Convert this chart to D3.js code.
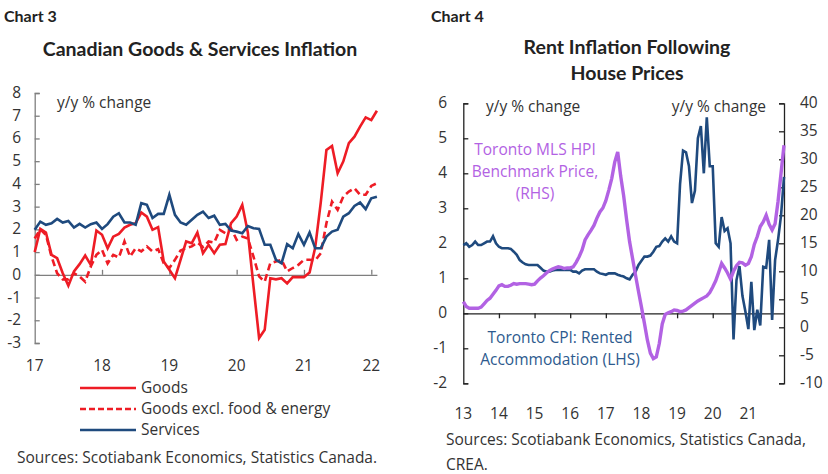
<!DOCTYPE html>
<meta charset="utf-8">
<head>
<style>
body { margin: 0; background: #fff; }
svg text { font-family: "Open Sans", Lato, sans-serif; fill: #222; }
.title { font-family: Lato, sans-serif; font-weight: 700; }
.axis-lab { font-size: 15.5px; fill: #333; }
</style>
</head>
<body>
<script src="https://cdnjs.cloudflare.com/ajax/libs/d3/7.8.5/d3.min.js"></script>
<script>
//------------------------- DATA --------------------------//
// chart 3: monthly, Jan 2017 .. Feb 2022
var yearLabels3 = ["17", "18", "19", "20", "21", "22"];
var goods = [1.0, 2.02, 1.86, 0.88, 0.73, 0.07, -0.48, 0.15, 0.47, 0.85, 0.44, 1.95,
  1.76, 1.17, 1.68, 1.8, 2.08, 2.2, 2.27, 2.74, 2.56, 1.98, 2.1, 0.59,
  0.22, -0.15, 0.66, 1.47, 1.39, 1.86, 0.95, 1.32, 0.95, 1.32, 1.35, 2.27,
  2.56, 3.08, 1.85, -0.5, -2.78, -2.42, -0.15, -0.2, -0.15, -0.38, -0.1, -0.1,
  -0.1, 0.1, 1.2, 3.2, 5.49, 5.67, 4.47, 4.98, 5.79, 6.08, 6.52, 6.93,
  6.81, 7.22];
var goodsCore = [1.6, 2.0, 1.76, 0.8, 0.07, -0.2, -0.2, 0.07, -0.07, -0.3, 0.37, 0.88,
  1.1, 0.5, 0.88, 0.76, 1.47, 0.8, 1.17, 1.03, 1.25, 1.03, 1.13, 0.51,
  0.3, 0.66, 1.07, 1.17, 1.25, 1.42, 1.22, 1.47, 1.42, 1.98, 1.83, 2.05,
  1.54, 1.68, 1.6, 0.8, -0.07, -0.3, 0.51, 0.59, 0.66, 0.15, 0.3, 0.44,
  0.66, 0.66, 0.63, 0.95, 2.27, 3.22, 2.86, 3.44, 3.66, 3.81, 3.52, 3.52,
  3.91, 4.03];
var services = [1.98, 2.34, 2.2, 2.27, 2.46, 2.3, 2.37, 2.08, 2.24, 2.08, 2.23, 2.3,
  2.02, 2.23, 2.56, 2.71, 2.3, 2.3, 2.2, 3.15, 3.08, 2.5, 2.68, 2.68,
  3.52, 2.64, 2.3, 2.2, 2.42, 2.64, 2.78, 2.5, 2.6, 2.2, 2.24, 1.95,
  1.9, 1.83, 2.15, 2.05, 2.02, 1.32, 1.32, 0.66, 0.51, 1.35, 1.17, 1.79,
  1.32, 1.86, 1.17, 1.17, 1.68, 1.9, 1.98, 2.56, 2.71, 3.03, 3.18, 2.89,
  3.37, 3.44];
var yTicks3 = [-3, -2, -1, 0, 1, 2, 3, 4, 5, 6, 7, 8];

// chart 4: monthly, Jan 2013 .. Jan 2022
var yearLabels4 = ["13", "14", "15", "16", "17", "18", "19", "20", "21"];
var rentCpi = [1.95, 2.0, 1.9, 1.95, 2.05, 1.95, 1.95, 2.0, 2.05, 2.05, 2.2, 2.0,
  1.9, 1.86, 1.86, 1.86, 1.84, 1.76, 1.67, 1.52, 1.45, 1.4, 1.38, 1.38,
  1.38, 1.38, 1.3, 1.22, 1.19, 1.19, 1.22, 1.24, 1.24, 1.24, 1.24, 1.24,
  1.24, 1.19, 1.19, 1.14, 1.22, 1.26, 1.26, 1.26, 1.26, 1.19, 1.14, 1.12,
  1.1, 1.14, 1.14, 1.14, 1.1, 1.07, 1.05, 1.0, 0.97, 1.1, 1.19, 1.38,
  1.5, 1.62, 1.62, 1.65, 1.76, 1.9, 1.92, 2.05, 2.14, 2.05, 2.2, 2.05,
  2.0, 3.7, 4.65, 4.6, 4.2, 3.15, 3.5, 5.0, 5.35, 4.0, 5.6, 4.2,
  4.2, 2.0, 1.9, 2.75, 2.35, 2.43, 2.0, -0.75, 0.95, 1.35, 0.5, 0.05,
  -0.45, 0.9, -0.48, 0.1, -0.35, 1.33, 1.3, 2.1, -0.19, 1.52, 2.1, 2.8,
  3.9];
var hpi = [4.6, 3.7, 3.4, 3.4, 3.4, 3.4, 3.6, 4.2, 4.8, 5.2, 5.9, 6.6,
  7.4, 7.6, 7.3, 7.3, 7.5, 7.8, 7.7, 7.8, 7.8, 7.8, 7.7, 7.6,
  7.7, 8.3, 8.8, 9.2, 9.7, 10.1, 10.4, 10.6, 10.8, 10.7, 10.5, 10.6,
  10.6, 10.8, 11.6, 12.6, 13.8, 15.6, 16.5, 17.3, 18.2, 19.5, 20.6, 21.3,
  22.6, 24.5, 26.6, 29.5, 31.3, 27.0, 23.5, 19.2, 15.3, 12.3, 9.3, 6.4,
  3.6, 0.7, -2.3, -4.6, -5.6, -5.3, -2.9, 0.6, 2.3, 2.6, 2.8, 3.1,
  3.0, 2.8, 2.9, 3.1, 3.5, 3.9, 4.3, 4.7, 5.0, 5.3, 5.6, 6.2,
  7.2, 8.3, 9.8, 11.4, 10.6, 9.7, 8.6, 10.0, 11.0, 11.6, 11.5, 11.1,
  11.4, 12.6, 14.8, 16.2, 18.0, 18.8, 20.0, 18.4, 17.4, 18.5, 22.5, 27.5,
  32.5];
var yTicksL4 = [-2, -1, 0, 1, 2, 3, 4, 5, 6];
var yTicksR4 = [-10, -5, 0, 5, 10, 15, 20, 25, 30, 35, 40];

var red = "#ee1c25", navy = "#1f4a7e", purple = "#b262e3";

//------------------------- SVG ---------------------------//
var svg = d3.select("body").append("svg")
    .attr("width", 828)
    .attr("height", 474);

//------------------------ CHART 3 ------------------------//
var g3 = svg.append("g");
g3.append("text").attr("class", "title").attr("x", 4).attr("y", 22)
    .style("font-size", "16px").text("Chart 3");
g3.append("text").attr("class", "title").attr("x", 200).attr("y", 56)
    .attr("text-anchor", "middle").style("font-size", "19.5px")
    .text("Canadian Goods & Services Inflation");

var x3 = d3.scaleLinear().domain([0, 61]).range([34.7, 376.9]);
var y3 = d3.scaleLinear().domain([-3, 8]).range([343, 93]);

// y axis, ticks pointing inward
g3.append("g")
    .attr("transform", "translate(" + x3(0) + ",0)")
    .call(d3.axisRight(y3).tickValues(yTicks3).tickSize(5).tickFormat(""))
    .call(g => g.selectAll("path, line").attr("stroke", "#7f7f7f").attr("stroke-width", 1.3));
g3.selectAll(".ylab3").data(yTicks3).enter().append("text")
    .attr("class", "axis-lab")
    .attr("x", 21).attr("y", d => y3(d) + 5)
    .attr("text-anchor", "end").text(d => d);

// zero line with ticks pointing up
g3.append("g")
    .attr("transform", "translate(0," + y3(0) + ")")
    .call(d3.axisTop(x3).tickValues([12, 24, 36, 48, 60]).tickSize(5).tickSizeOuter(0).tickFormat(""))
    .call(g => g.selectAll("path, line").attr("stroke", "#7f7f7f").attr("stroke-width", 1.3));
g3.selectAll(".xlab3").data(yearLabels3).enter().append("text")
    .attr("class", "axis-lab")
    .attr("x", (d, i) => x3(i * 12)).attr("y", 371)
    .attr("text-anchor", "middle").text(d => d);

g3.append("text").attr("class", "axis-lab").attr("x", 57).attr("y", 108).text("y/y % change");

var line3 = d3.line().x((d, i) => x3(i)).y(d => y3(d));
g3.append("path").datum(goodsCore).attr("d", line3)
    .attr("fill", "none").attr("stroke", red).attr("stroke-width", 2.6).attr("stroke-dasharray", "7,4");
g3.append("path").datum(goods).attr("d", line3)
    .attr("fill", "none").attr("stroke", red).attr("stroke-width", 2.6);
g3.append("path").datum(services).attr("d", line3)
    .attr("fill", "none").attr("stroke", navy).attr("stroke-width", 2.6);

// legend
var leg = [
  {name: "Goods", color: red, dash: null},
  {name: "Goods excl. food & energy", color: red, dash: "6,3"},
  {name: "Services", color: navy, dash: null}
];
var legG = g3.selectAll(".leg").data(leg).enter().append("g")
    .attr("transform", (d, i) => "translate(80," + (388 + i * 21) + ")");
legG.append("line").attr("x1", 0).attr("x2", 56)
    .attr("stroke", d => d.color).attr("stroke-width", 2.6)
    .attr("stroke-dasharray", d => d.dash);
legG.append("text").attr("class", "axis-lab").attr("x", 61).attr("y", 5).text(d => d.name);

g3.append("text").attr("class", "axis-lab").attr("x", 17).attr("y", 463)
    .text("Sources: Scotiabank Economics, Statistics Canada.");

//------------------------ CHART 4 ------------------------//
var g4 = svg.append("g");
g4.append("text").attr("class", "title").attr("x", 431).attr("y", 22)
    .style("font-size", "16px").text("Chart 4");
g4.append("text").attr("class", "title").attr("x", 627).attr("y", 54)
    .attr("text-anchor", "middle").style("font-size", "19.5px").text("Rent Inflation Following");
g4.append("text").attr("class", "title").attr("x", 627).attr("y", 80)
    .attr("text-anchor", "middle").style("font-size", "19.5px").text("House Prices");

var x4 = d3.scaleLinear().domain([0, 108]).range([463.3, 784]);
var yL = d3.scaleLinear().domain([-2, 6]).range([383.3, 103.3]);
var yR = d3.scaleLinear().domain([-10, 40]).range([383.3, 103.3]);

g4.append("g")
    .attr("transform", "translate(" + x4(0) + ",0)")
    .call(d3.axisRight(yL).tickValues(yTicksL4).tickSize(5).tickFormat(""))
    .call(g => g.selectAll("path, line").attr("stroke", "#222").attr("stroke-width", 1.3));
g4.append("g")
    .attr("transform", "translate(" + x4(108) + ",0)")
    .call(d3.axisLeft(yR).tickValues(yTicksR4).tickSize(5).tickFormat(""))
    .call(g => g.selectAll("path, line").attr("stroke", "#222").attr("stroke-width", 1.3));
g4.selectAll(".ylabL").data(yTicksL4).enter().append("text")
    .attr("class", "axis-lab")
    .attr("x", 447).attr("y", d => yL(d) + 5)
    .attr("text-anchor", "end").text(d => d);
g4.selectAll(".ylabR").data(yTicksR4).enter().append("text")
    .attr("class", "axis-lab")
    .attr("x", 800).attr("y", d => yR(d) + 5).text(d => d);

g4.append("g")
    .attr("transform", "translate(0," + yL(0) + ")")
    .call(d3.axisBottom(x4).tickValues([12, 24, 36, 48, 60, 72, 84, 96]).tickSize(5).tickSizeOuter(0).tickFormat(""))
    .call(g => g.selectAll("path, line").attr("stroke", "#222").attr("stroke-width", 1.3));
g4.selectAll(".xlab4").data(yearLabels4).enter().append("text")
    .attr("class", "axis-lab")
    .attr("x", (d, i) => x4(i * 12)).attr("y", 419)
    .attr("text-anchor", "middle").text(d => d);

g4.append("text").attr("class", "axis-lab").attr("x", 486).attr("y", 112).text("y/y % change");
g4.append("text").attr("class", "axis-lab").attr("x", 766).attr("y", 112)
    .attr("text-anchor", "end").text("y/y % change");

var lineL = d3.line().x((d, i) => x4(i)).y(d => yL(d));
var lineR = d3.line().x((d, i) => x4(i)).y(d => yR(d));
g4.append("path").datum(rentCpi).attr("d", lineL)
    .attr("fill", "none").attr("stroke", navy).attr("stroke-width", 2.6);
g4.append("path").datum(hpi).attr("d", lineR)
    .attr("fill", "none").attr("stroke", purple).attr("stroke-width", 3.4);

var hpiLab = ["Toronto MLS HPI", "Benchmark Price,", "(RHS)"];
g4.selectAll(".hpilab").data(hpiLab).enter().append("text")
    .attr("class", "axis-lab")
    .attr("x", 535).attr("y", (d, i) => 155 + i * 22)
    .attr("text-anchor", "middle").style("fill", purple).text(d => d);
var cpiLab = ["Toronto CPI: Rented", "Accommodation (LHS)"];
g4.selectAll(".cpilab").data(cpiLab).enter().append("text")
    .attr("class", "axis-lab")
    .attr("x", 560).attr("y", (d, i) => 343 + i * 22)
    .attr("text-anchor", "middle").style("fill", "#2d5a8e").text(d => d);

g4.append("text").attr("class", "axis-lab").attr("x", 446).attr("y", 445)
    .text("Sources: Scotiabank Economics, Statistics Canada,");
g4.append("text").attr("class", "axis-lab").attr("x", 446).attr("y", 470)
    .text("CREA.");
</script>
</body>
